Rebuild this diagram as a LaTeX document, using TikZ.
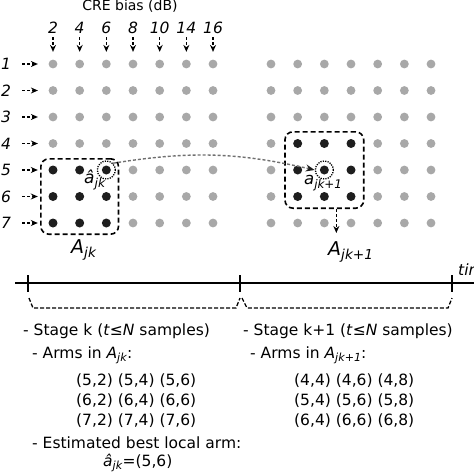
\documentclass[tikz,border=0pt]{standalone}
\usepackage{fontspec}
\setmainfont{DejaVu Sans}
\usepackage{tikz}
\usetikzlibrary{arrows.meta,positioning,calc,fit}

\definecolor{dotgray}{HTML}{A8A8A8}
\definecolor{dotblack}{HTML}{1E1E1E}
\definecolor{linkgray}{HTML}{707070}

\newcommand{\idx}[1]{\raisebox{-0.45ex}{\scalebox{0.72}{#1}}}

\tikzset{
  gdot/.style={circle,fill=dotgray,inner sep=0pt,minimum size=8.8pt},
  bdot/.style={circle,fill=dotblack,inner sep=0pt,minimum size=9pt},
  lab/.style={font=\fontsize{15.5}{17}\selectfont\itshape,inner sep=0pt},
  ptr/.style={dash pattern=on 3pt off 2pt,line width=1.3pt,-{Stealth[length=7pt,width=6pt]}},
  region/.style={draw,dash pattern=on 5pt off 3pt,line width=1.6pt,rounded corners=8pt},
  ring/.style={draw,circle,dash pattern=on 1.2pt off 1.2pt,line width=1.3pt,minimum size=18pt,inner sep=0pt},
  txt/.style={font=\fontsize{15.5}{18}\selectfont,inner sep=0pt,anchor=base west},
  setname/.style={font=\fontsize{19}{22}\selectfont\itshape,inner sep=0pt,anchor=base west},
  brace/.style={dash pattern=on 4pt off 2pt,line width=1.3pt},
}

\begin{document}
\begin{tikzpicture}[x=1pt,y=-1pt]
\useasboundingbox (0,0) rectangle (474,474);

% header
\node[font=\fontsize{14}{16}\selectfont,inner sep=0pt,anchor=base] (cre) at (130,10) {CRE bias (dB)};

% the two grids of arms
\foreach \r in {1,...,7}
  \foreach \c in {1,...,7}{
    \pgfmathsetmacro\px{53+26.67*(\c-1)}
    \pgfmathsetmacro\py{64+26.5*(\r-1)}
    \pgfmathtruncatemacro\inL{(\r>4)*(\c<4)}
    \pgfmathtruncatemacro\inR{(\r>3)*(\r<7)*(\c>1)*(\c<5)}
    \ifnum\inL=1 \def\sty{bdot}\else\def\sty{gdot}\fi
    \node[\sty] (L\r\c) at (\px,\py) {};
    \ifnum\inR=1 \def\sty{bdot}\else\def\sty{gdot}\fi
    \node[\sty] (R\r\c) at (\px+218,\py) {};
  }

% column labels
\foreach \c/\v in {1/2,2/4,3/6,4/8,5/10,6/14,7/16}{
  \node[lab,anchor=base] (col\c) at ($(L1\c)+(0,-31)$) {\v};
  \draw[ptr,shorten <=4pt,shorten >=7.5pt] (col\c) -- (L1\c);
}
% row labels
\foreach \r in {1,...,7}{
  \node[lab] (row\r) at ($(L\r1)+(-47,0)$) {\r};
  \draw[ptr,shorten <=11pt,shorten >=10.5pt] (row\r) -- (L\r1);
}

% local sets
\node[region,fit=(L51)(L73),inner xsep=7.5pt,inner ysep=6.5pt] (Ajk) {};
\node[region,fit=(R42)(R64),inner xsep=8pt,inner ysep=7pt] (Ajk1) {};
\node[ring] (best) at (L53) {};
\node[ring] (pick) at (R53) {};
\node[font=\fontsize{17}{19}\selectfont\itshape,inner sep=0pt,anchor=base west] (ahat) at (84,183) {â\idx{jk}};
\node[font=\fontsize{16.5}{18}\selectfont\itshape,inner sep=0pt,anchor=base west] (anext) at (304,184) {a\idx{jk+1}};
\draw[linkgray,dash pattern=on 3pt off 2pt,line width=1.4pt,-{Stealth[length=9pt,width=7pt,color=dotblack]}]
  (best.north east) to[bend left=11] (pick.west);

\node[setname] (setL) at (71,253) {A\idx{jk}};
\node[setname] (setR) at (328,255) {A\idx{jk+1}};
\coordinate (drop) at ($(Ajk1.south)+(12,0)$);
\draw[ptr] (drop) -- (drop |- 0,233);

% time axis
\coordinate (t0) at (28,283);
\coordinate (t1) at (240,283);
\coordinate (t2) at (452,283);
\draw[line width=1.4pt] (15,283) -- (474,283);
\foreach \t in {t0,t1,t2}
  \draw[line width=1.4pt] ($(\t)+(0,-8)$) -- ($(\t)+(0,9)$);
\node[lab,font=\fontsize{15.5}{17}\selectfont\itshape,anchor=base west] (time) at (458,275) {time};
\draw[brace] (29,298) -- (33,308) -- (236,308) -- (240,298);
\draw[brace] (242,298) -- (247,308) -- (448,308) -- (452,298);

% stage k
\node[txt] (sk) at (23,335) {- Stage k (\textit{t}≤\textit{N} samples)};
\node[txt] (ak) at (32,358) {- Arms in \textit{A}\idx{\textit{jk}}:};
\node[txt] (ak1) at (76,385) {(5,2) (5,4) (5,6)};
\node[txt] (ak2) at (76,405) {(6,2) (6,4) (6,6)};
\node[txt] (ak3) at (76,425) {(7,2) (7,4) (7,6)};
\node[txt] (est) at (32,448) {- Estimated best local arm:};
\node[txt] (estv) at (103,466) {\textit{â}\idx{\textit{jk}}=(5,6)};

% stage k+1
\node[txt] (sk1) at (243,335) {- Stage k+1 (\textit{t}≤\textit{N} samples)};
\node[txt] (bk) at (250,358) {- Arms in \textit{A}\idx{\textit{jk+1}}:};
\node[txt] (bk1) at (294,385) {(4,4) (4,6) (4,8)};
\node[txt] (bk2) at (294,405) {(5,4) (5,6) (5,8)};
\node[txt] (bk3) at (294,425) {(6,4) (6,6) (6,8)};

\end{tikzpicture}
\end{document}
